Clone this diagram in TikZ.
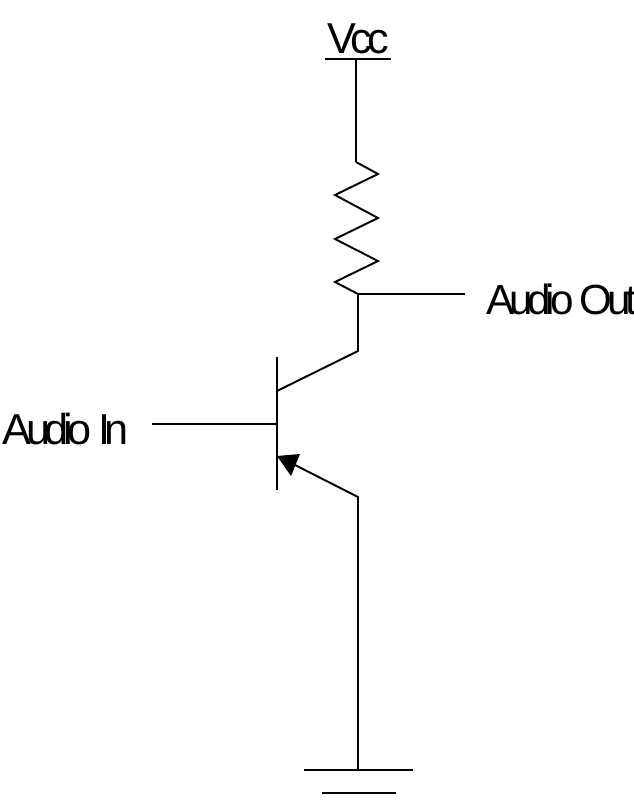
\documentclass[tikz,border=0pt]{standalone}
\usepackage{fontspec}
\setmainfont{Liberation Sans}[LetterSpace=-12.5]
\usetikzlibrary{positioning, calc}
\tikzset{
  wire/.style={line width=0.55pt, black},
  rail/.style={line width=0.8pt, black},
  lbl/.style={inner sep=0pt, font=\fontsize{12.3}{14}\selectfont}
}

\begin{document}
\begin{tikzpicture}[x=0.01cm, y=-0.01cm]
      \useasboundingbox (0, 0) rectangle (633, 812);

      \coordinate (vcc) at (356, 59);
      \coordinate (rtop) at (356, 162);
      \coordinate (out) at (358, 294);
      \coordinate (coll) at (358, 351);
      \coordinate (bc) at (277, 391);
      \coordinate (bb) at (277, 424);
      \coordinate (be) at (277, 456);
      \coordinate (emit) at (358, 497);
      \coordinate (gnd) at (358, 770);

      \node[lbl, anchor=base] (vcclabel) at (358, 53) {Vcc};
      \node[lbl, anchor=base west, font=\fontsize{12}{14}\selectfont] (outlabel) at (486, 314) {Audio Out};
      \node[lbl, anchor=base west] (inlabel) at (2, 444) {Audio In};

      \coordinate (outend) at (465, 294);
      \coordinate (inend) at (152, 424);

      \draw[rail] (325, 59) -- (391, 59);
      \draw[wire] (vcc) -- (rtop);
      \draw[wire] (rtop) -- ++(22, 12) -- ++(-43, 21) -- ++(43, 23) -- ++(-43, 21) -- ++(43, 22) -- ++(-43, 21) -- (out);
      \draw[wire] (out) -- (outend);
      \draw[wire] (out) -- (coll) -- (bc);

      \draw[wire] (277, 357) -- (277, 490);
      \draw[wire] (inend) -- (bb);

      \draw[wire] (gnd) -- (emit) -- (295, 465);
      \fill[black] (be) -- (300, 454) -- (291, 476) -- cycle;

      \draw[rail] (304, 770) -- (413, 770);
      \draw[rail] (322, 793) -- (396, 793);

    \end{tikzpicture}
\end{document}
